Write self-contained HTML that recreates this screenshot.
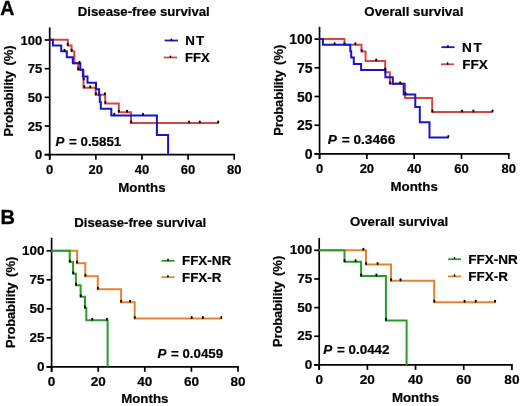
<!DOCTYPE html>
<html><head><meta charset="utf-8"><title>Kaplan-Meier survival curves</title>
<style>
html,body{margin:0;padding:0;background:#fff;}
svg{display:block;}
svg text{font-family:'Liberation Sans',Arial,sans-serif;font-weight:bold;font-size:13px;fill:#000;stroke:#000;stroke-width:0.2px;}
</style></head>
<body>
<svg width="520" height="406" viewBox="0 0 520 406">
<rect width="520" height="406" fill="#fff"/>
<text x="0.2" y="14.8" style="font-size:19.5px;stroke:#000;stroke-width:0.35px">A</text>
<text x="0.6" y="223.7" style="font-size:20px;stroke:#000;stroke-width:0.35px">B</text>
<text x="77.8" y="16.2" style="font-size:13.2px">Disease-free survival</text>
<text x="364.3" y="16.4" style="font-size:13.3px">Overall survival</text>
<text x="74.2" y="226.6" style="font-size:13.2px">Disease-free survival</text>
<text x="350.0" y="225.5" style="font-size:13.2px">Overall survival</text>
<line x1="49.7" y1="27.4" x2="49.7" y2="159.7" stroke="#000" stroke-width="1.7"/>
<line x1="44.7" y1="154.7" x2="235.04999999999998" y2="154.7" stroke="#000" stroke-width="1.7"/>
<line x1="44.7" y1="154.70" x2="49.7" y2="154.70" stroke="#000" stroke-width="1.7"/>
<text x="42.3" y="159.30" text-anchor="end" style="font-size:13px">0</text>
<line x1="44.7" y1="126.02" x2="49.7" y2="126.02" stroke="#000" stroke-width="1.7"/>
<text x="42.3" y="130.62" text-anchor="end" style="font-size:13px">25</text>
<line x1="44.7" y1="97.35" x2="49.7" y2="97.35" stroke="#000" stroke-width="1.7"/>
<text x="42.3" y="101.95" text-anchor="end" style="font-size:13px">50</text>
<line x1="44.7" y1="68.67" x2="49.7" y2="68.67" stroke="#000" stroke-width="1.7"/>
<text x="42.3" y="73.27" text-anchor="end" style="font-size:13px">75</text>
<line x1="44.7" y1="40.00" x2="49.7" y2="40.00" stroke="#000" stroke-width="1.7"/>
<text x="42.3" y="44.60" text-anchor="end" style="font-size:13px">100</text>
<line x1="49.70" y1="154.7" x2="49.70" y2="159.7" stroke="#000" stroke-width="1.7"/>
<text x="49.70" y="173.7" text-anchor="middle" style="font-size:13px">0</text>
<line x1="95.83" y1="154.7" x2="95.83" y2="159.7" stroke="#000" stroke-width="1.7"/>
<text x="95.83" y="173.7" text-anchor="middle" style="font-size:13px">20</text>
<line x1="141.95" y1="154.7" x2="141.95" y2="159.7" stroke="#000" stroke-width="1.7"/>
<text x="141.95" y="173.7" text-anchor="middle" style="font-size:13px">40</text>
<line x1="188.07" y1="154.7" x2="188.07" y2="159.7" stroke="#000" stroke-width="1.7"/>
<text x="188.07" y="173.7" text-anchor="middle" style="font-size:13px">60</text>
<line x1="234.20" y1="154.7" x2="234.20" y2="159.7" stroke="#000" stroke-width="1.7"/>
<text x="234.20" y="173.7" text-anchor="middle" style="font-size:13px">80</text>
<text x="141.95" y="191.90" text-anchor="middle" style="font-size:13.3px">Months</text>
<text transform="translate(13.0,90.9) rotate(-90)" x="0" y="0" text-anchor="middle"><tspan style="letter-spacing:-0.17px">Probability</tspan><tspan dx="2"> (%)</tspan></text>
<line x1="319.55" y1="26.8" x2="319.55" y2="158.9" stroke="#000" stroke-width="1.7"/>
<line x1="314.55" y1="153.9" x2="509.65000000000003" y2="153.9" stroke="#000" stroke-width="1.7"/>
<line x1="314.55" y1="153.90" x2="319.55" y2="153.90" stroke="#000" stroke-width="1.7"/>
<text x="312.5" y="159.00" text-anchor="end" style="font-size:14px">0</text>
<line x1="314.55" y1="125.20" x2="319.55" y2="125.20" stroke="#000" stroke-width="1.7"/>
<text x="312.5" y="130.30" text-anchor="end" style="font-size:14px">25</text>
<line x1="314.55" y1="96.50" x2="319.55" y2="96.50" stroke="#000" stroke-width="1.7"/>
<text x="312.5" y="101.60" text-anchor="end" style="font-size:14px">50</text>
<line x1="314.55" y1="67.80" x2="319.55" y2="67.80" stroke="#000" stroke-width="1.7"/>
<text x="312.5" y="72.90" text-anchor="end" style="font-size:14px">75</text>
<line x1="314.55" y1="39.10" x2="319.55" y2="39.10" stroke="#000" stroke-width="1.7"/>
<text x="312.5" y="44.20" text-anchor="end" style="font-size:14px">100</text>
<line x1="319.55" y1="153.9" x2="319.55" y2="158.9" stroke="#000" stroke-width="1.7"/>
<text x="319.55" y="173.2" text-anchor="middle" style="font-size:13px">0</text>
<line x1="366.86" y1="153.9" x2="366.86" y2="158.9" stroke="#000" stroke-width="1.7"/>
<text x="366.86" y="173.2" text-anchor="middle" style="font-size:13px">20</text>
<line x1="414.18" y1="153.9" x2="414.18" y2="158.9" stroke="#000" stroke-width="1.7"/>
<text x="414.18" y="173.2" text-anchor="middle" style="font-size:13px">40</text>
<line x1="461.49" y1="153.9" x2="461.49" y2="158.9" stroke="#000" stroke-width="1.7"/>
<text x="461.49" y="173.2" text-anchor="middle" style="font-size:13px">60</text>
<line x1="508.80" y1="153.9" x2="508.80" y2="158.9" stroke="#000" stroke-width="1.7"/>
<text x="508.80" y="173.2" text-anchor="middle" style="font-size:13px">80</text>
<text x="414.18" y="191.30" text-anchor="middle" style="font-size:13.3px">Months</text>
<text transform="translate(282.7,90.25) rotate(-90)" x="0" y="0" text-anchor="middle"><tspan style="letter-spacing:-0.17px">Probability</tspan><tspan dx="2"> (%)</tspan></text>
<line x1="51.6" y1="237.7" x2="51.6" y2="371.8" stroke="#000" stroke-width="1.7"/>
<line x1="46.6" y1="366.8" x2="238.85" y2="366.8" stroke="#000" stroke-width="1.7"/>
<line x1="46.6" y1="366.80" x2="51.6" y2="366.80" stroke="#000" stroke-width="1.7"/>
<text x="44.6" y="371.20" text-anchor="end" style="font-size:13.5px">0</text>
<line x1="46.6" y1="337.80" x2="51.6" y2="337.80" stroke="#000" stroke-width="1.7"/>
<text x="44.6" y="342.20" text-anchor="end" style="font-size:13.5px">25</text>
<line x1="46.6" y1="308.80" x2="51.6" y2="308.80" stroke="#000" stroke-width="1.7"/>
<text x="44.6" y="313.20" text-anchor="end" style="font-size:13.5px">50</text>
<line x1="46.6" y1="279.80" x2="51.6" y2="279.80" stroke="#000" stroke-width="1.7"/>
<text x="44.6" y="284.20" text-anchor="end" style="font-size:13.5px">75</text>
<line x1="46.6" y1="250.80" x2="51.6" y2="250.80" stroke="#000" stroke-width="1.7"/>
<text x="44.6" y="255.20" text-anchor="end" style="font-size:13.5px">100</text>
<line x1="51.60" y1="366.8" x2="51.60" y2="371.8" stroke="#000" stroke-width="1.7"/>
<text x="51.60" y="385.8" text-anchor="middle" style="font-size:13.5px">0</text>
<line x1="98.20" y1="366.8" x2="98.20" y2="371.8" stroke="#000" stroke-width="1.7"/>
<text x="98.20" y="385.8" text-anchor="middle" style="font-size:13.5px">20</text>
<line x1="144.80" y1="366.8" x2="144.80" y2="371.8" stroke="#000" stroke-width="1.7"/>
<text x="144.80" y="385.8" text-anchor="middle" style="font-size:13.5px">40</text>
<line x1="191.40" y1="366.8" x2="191.40" y2="371.8" stroke="#000" stroke-width="1.7"/>
<text x="191.40" y="385.8" text-anchor="middle" style="font-size:13.5px">60</text>
<line x1="238.00" y1="366.8" x2="238.00" y2="371.8" stroke="#000" stroke-width="1.7"/>
<text x="238.00" y="385.8" text-anchor="middle" style="font-size:13.5px">80</text>
<text x="144.80" y="403.40" text-anchor="middle" style="font-size:13.3px">Months</text>
<text transform="translate(15.2,302.3) rotate(-90)" x="0" y="0" text-anchor="middle"><tspan style="letter-spacing:-0.17px">Probability</tspan><tspan dx="2"> (%)</tspan></text>
<line x1="319.2" y1="237.9" x2="319.2" y2="369.9" stroke="#000" stroke-width="1.7"/>
<line x1="314.2" y1="364.9" x2="512.75" y2="364.9" stroke="#000" stroke-width="1.7"/>
<line x1="314.2" y1="364.90" x2="319.2" y2="364.90" stroke="#000" stroke-width="1.7"/>
<text x="312.2" y="369.00" text-anchor="end" style="font-size:13.5px">0</text>
<line x1="314.2" y1="336.25" x2="319.2" y2="336.25" stroke="#000" stroke-width="1.7"/>
<text x="312.2" y="340.35" text-anchor="end" style="font-size:13.5px">25</text>
<line x1="314.2" y1="307.60" x2="319.2" y2="307.60" stroke="#000" stroke-width="1.7"/>
<text x="312.2" y="311.70" text-anchor="end" style="font-size:13.5px">50</text>
<line x1="314.2" y1="278.95" x2="319.2" y2="278.95" stroke="#000" stroke-width="1.7"/>
<text x="312.2" y="283.05" text-anchor="end" style="font-size:13.5px">75</text>
<line x1="314.2" y1="250.30" x2="319.2" y2="250.30" stroke="#000" stroke-width="1.7"/>
<text x="312.2" y="254.40" text-anchor="end" style="font-size:13.5px">100</text>
<line x1="319.20" y1="364.9" x2="319.20" y2="369.9" stroke="#000" stroke-width="1.7"/>
<text x="319.20" y="384.3" text-anchor="middle" style="font-size:13.6px">0</text>
<line x1="367.38" y1="364.9" x2="367.38" y2="369.9" stroke="#000" stroke-width="1.7"/>
<text x="367.38" y="384.3" text-anchor="middle" style="font-size:13.6px">20</text>
<line x1="415.55" y1="364.9" x2="415.55" y2="369.9" stroke="#000" stroke-width="1.7"/>
<text x="415.55" y="384.3" text-anchor="middle" style="font-size:13.6px">40</text>
<line x1="463.73" y1="364.9" x2="463.73" y2="369.9" stroke="#000" stroke-width="1.7"/>
<text x="463.73" y="384.3" text-anchor="middle" style="font-size:13.6px">60</text>
<line x1="511.90" y1="364.9" x2="511.90" y2="369.9" stroke="#000" stroke-width="1.7"/>
<text x="511.90" y="384.3" text-anchor="middle" style="font-size:13.6px">80</text>
<text x="415.55" y="401.70" text-anchor="middle" style="font-size:13.3px">Months</text>
<text transform="translate(282.4,301.35) rotate(-90)" x="0" y="0" text-anchor="middle"><tspan style="letter-spacing:-0.17px">Probability</tspan><tspan dx="2"> (%)</tspan></text>
<path d="M49.7,39.8 L67.8,39.8 L67.8,45.4 L71.6,45.4 L71.6,51.3 L74.3,51.3 L74.3,63.3 L78.2,63.3 L78.2,69.8 L83.5,69.8 L83.5,87.7 L95.7,87.7 L95.7,94.8 L105.2,94.8 L105.2,103.6 L118.8,103.6 L118.8,112.2 L131.0,112.2 L131.0,123.0 L218.4,123.0" fill="none" stroke="#d44646" stroke-width="2" stroke-linejoin="miter" stroke-linecap="butt"/>
<line x1="67.8" y1="44.9" x2="67.8" y2="43.8" stroke="#000" stroke-width="1.9" stroke-linecap="round"/>
<line x1="71.6" y1="50.8" x2="71.6" y2="49.699999999999996" stroke="#000" stroke-width="1.9" stroke-linecap="round"/>
<line x1="78.2" y1="69.3" x2="78.2" y2="68.2" stroke="#000" stroke-width="1.9" stroke-linecap="round"/>
<line x1="83.7" y1="79.5" x2="83.7" y2="78.4" stroke="#000" stroke-width="1.9" stroke-linecap="round"/>
<line x1="84.3" y1="87.2" x2="84.3" y2="86.10000000000001" stroke="#000" stroke-width="1.9" stroke-linecap="round"/>
<line x1="90.2" y1="87.2" x2="90.2" y2="86.10000000000001" stroke="#000" stroke-width="1.9" stroke-linecap="round"/>
<line x1="95.9" y1="94.3" x2="95.9" y2="93.2" stroke="#000" stroke-width="1.9" stroke-linecap="round"/>
<line x1="104.9" y1="94.3" x2="104.9" y2="93.2" stroke="#000" stroke-width="1.9" stroke-linecap="round"/>
<line x1="105.4" y1="103.1" x2="105.4" y2="102.0" stroke="#000" stroke-width="1.9" stroke-linecap="round"/>
<line x1="118.9" y1="111.7" x2="118.9" y2="110.60000000000001" stroke="#000" stroke-width="1.9" stroke-linecap="round"/>
<line x1="127.1" y1="111.7" x2="127.1" y2="110.60000000000001" stroke="#000" stroke-width="1.9" stroke-linecap="round"/>
<line x1="131.1" y1="122.5" x2="131.1" y2="121.4" stroke="#000" stroke-width="1.9" stroke-linecap="round"/>
<line x1="189.0" y1="122.5" x2="189.0" y2="121.4" stroke="#000" stroke-width="1.9" stroke-linecap="round"/>
<line x1="199.8" y1="122.5" x2="199.8" y2="121.4" stroke="#000" stroke-width="1.9" stroke-linecap="round"/>
<line x1="218.2" y1="122.5" x2="218.2" y2="121.4" stroke="#000" stroke-width="1.9" stroke-linecap="round"/>
<path d="M49.7,39.8 L52.9,39.8 L52.9,45.6 L61.2,45.6 L61.2,51.2 L66.8,51.2 L66.8,57.2 L72.8,57.2 L72.8,63.3 L80.3,63.3 L80.3,69.8 L82.9,69.8 L82.9,76.4 L87.5,76.4 L87.5,82.8 L96.0,82.8 L96.0,89.2 L99.1,89.2 L99.1,95.0 L99.8,95.0 L99.8,102.0 L100.8,102.0 L100.8,108.8 L111.3,108.8 L111.3,115.4 L156.9,115.4 L156.9,135.0 L168.1,135.0 L168.1,154.7" fill="none" stroke="#1a14c8" stroke-width="2" stroke-linejoin="miter" stroke-linecap="butt"/>
<line x1="64.5" y1="50.7" x2="64.5" y2="49.6" stroke="#000" stroke-width="1.9" stroke-linecap="round"/>
<line x1="79.5" y1="62.8" x2="79.5" y2="61.699999999999996" stroke="#000" stroke-width="1.9" stroke-linecap="round"/>
<line x1="114.3" y1="114.9" x2="114.3" y2="113.80000000000001" stroke="#000" stroke-width="1.9" stroke-linecap="round"/>
<line x1="143.0" y1="114.9" x2="143.0" y2="113.80000000000001" stroke="#000" stroke-width="1.9" stroke-linecap="round"/>
<path d="M319.55,38.9 L344.5,38.9 L344.5,44.7 L361.5,44.7 L361.5,51.5 L365.6,51.5 L365.6,61.1 L385.2,61.1 L385.2,72.3 L389.9,72.3 L389.9,83.7 L405.1,83.7 L405.1,98.0 L432.2,98.0 L432.2,112.0 L492.5,112.0" fill="none" stroke="#d44646" stroke-width="2" stroke-linejoin="miter" stroke-linecap="butt"/>
<line x1="344.4" y1="44.2" x2="344.4" y2="43.1" stroke="#000" stroke-width="1.9" stroke-linecap="round"/>
<line x1="355.4" y1="44.2" x2="355.4" y2="43.1" stroke="#000" stroke-width="1.9" stroke-linecap="round"/>
<line x1="361.7" y1="51.0" x2="361.7" y2="49.9" stroke="#000" stroke-width="1.9" stroke-linecap="round"/>
<line x1="376.2" y1="60.6" x2="376.2" y2="59.5" stroke="#000" stroke-width="1.9" stroke-linecap="round"/>
<line x1="390.1" y1="83.2" x2="390.1" y2="82.10000000000001" stroke="#000" stroke-width="1.9" stroke-linecap="round"/>
<line x1="432.4" y1="111.5" x2="432.4" y2="110.4" stroke="#000" stroke-width="1.9" stroke-linecap="round"/>
<line x1="462.1" y1="111.5" x2="462.1" y2="110.4" stroke="#000" stroke-width="1.9" stroke-linecap="round"/>
<line x1="473.4" y1="111.5" x2="473.4" y2="110.4" stroke="#000" stroke-width="1.9" stroke-linecap="round"/>
<line x1="492.5" y1="111.5" x2="492.5" y2="110.4" stroke="#000" stroke-width="1.9" stroke-linecap="round"/>
<path d="M319.55,38.9 L322.9,38.9 L322.9,44.7 L350.3,44.7 L350.3,51.2 L351.2,51.2 L351.2,57.6 L353.8,57.6 L353.8,63.9 L361.1,63.9 L361.1,70.0 L385.4,70.0 L385.4,77.2 L392.8,77.2 L392.8,83.7 L403.7,83.7 L403.7,94.6 L415.3,94.6 L415.3,106.9 L419.8,106.9 L419.8,122.2 L429.5,122.2 L429.5,137.5 L448.5,137.5" fill="none" stroke="#1a14c8" stroke-width="2" stroke-linejoin="miter" stroke-linecap="butt"/>
<line x1="334.6" y1="44.2" x2="334.6" y2="43.1" stroke="#000" stroke-width="1.9" stroke-linecap="round"/>
<line x1="385.3" y1="69.5" x2="385.3" y2="68.4" stroke="#000" stroke-width="1.9" stroke-linecap="round"/>
<line x1="400.2" y1="83.2" x2="400.2" y2="82.10000000000001" stroke="#000" stroke-width="1.9" stroke-linecap="round"/>
<line x1="405.5" y1="94.1" x2="405.5" y2="93.0" stroke="#000" stroke-width="1.9" stroke-linecap="round"/>
<line x1="448.3" y1="137.0" x2="448.3" y2="135.9" stroke="#000" stroke-width="1.9" stroke-linecap="round"/>
<path d="M51.6,250.8 L77.1,250.8 L77.1,263.15 L85.3,263.15 L85.3,276.35 L97.8,276.35 L97.8,289.25 L121.1,289.25 L121.1,302.25 L134.7,302.25 L134.7,318.6 L221.3,318.6" fill="none" stroke="#e2832f" stroke-width="2" stroke-linejoin="miter" stroke-linecap="butt"/>
<line x1="77.0" y1="262.65" x2="77.0" y2="261.54999999999995" stroke="#000" stroke-width="1.9" stroke-linecap="round"/>
<line x1="85.4" y1="275.85" x2="85.4" y2="274.75" stroke="#000" stroke-width="1.9" stroke-linecap="round"/>
<line x1="97.9" y1="288.75" x2="97.9" y2="287.65" stroke="#000" stroke-width="1.9" stroke-linecap="round"/>
<line x1="121.2" y1="301.75" x2="121.2" y2="300.65" stroke="#000" stroke-width="1.9" stroke-linecap="round"/>
<line x1="130.1" y1="301.75" x2="130.1" y2="300.65" stroke="#000" stroke-width="1.9" stroke-linecap="round"/>
<line x1="134.8" y1="318.1" x2="134.8" y2="317.0" stroke="#000" stroke-width="1.9" stroke-linecap="round"/>
<line x1="191.7" y1="318.1" x2="191.7" y2="317.0" stroke="#000" stroke-width="1.9" stroke-linecap="round"/>
<line x1="202.9" y1="318.1" x2="202.9" y2="317.0" stroke="#000" stroke-width="1.9" stroke-linecap="round"/>
<line x1="221.3" y1="318.1" x2="221.3" y2="317.0" stroke="#000" stroke-width="1.9" stroke-linecap="round"/>
<path d="M51.6,250.8 L69.7,250.8 L69.7,262.05 L73.1,262.05 L73.1,273.75 L75.9,273.75 L75.9,285.25 L80.6,285.25 L80.6,296.85 L85.0,296.85 L85.0,308.05 L86.3,308.05 L86.3,320.35 L107.6,320.35 L107.6,366.8" fill="none" stroke="#2a9a2e" stroke-width="2" stroke-linejoin="miter" stroke-linecap="butt"/>
<line x1="69.9" y1="261.55" x2="69.9" y2="260.45" stroke="#000" stroke-width="1.9" stroke-linecap="round"/>
<line x1="73.3" y1="273.25" x2="73.3" y2="272.15" stroke="#000" stroke-width="1.9" stroke-linecap="round"/>
<line x1="76.1" y1="284.75" x2="76.1" y2="283.65" stroke="#000" stroke-width="1.9" stroke-linecap="round"/>
<line x1="80.8" y1="296.35" x2="80.8" y2="295.25" stroke="#000" stroke-width="1.9" stroke-linecap="round"/>
<line x1="85.1" y1="307.55" x2="85.1" y2="306.45" stroke="#000" stroke-width="1.9" stroke-linecap="round"/>
<line x1="92.2" y1="319.85" x2="92.2" y2="318.75" stroke="#000" stroke-width="1.9" stroke-linecap="round"/>
<line x1="106.9" y1="319.85" x2="106.9" y2="318.75" stroke="#000" stroke-width="1.9" stroke-linecap="round"/>
<path d="M319.2,250.3 L366.0,250.3 L366.0,264.5 L391.0,264.5 L391.0,280.8 L434.2,280.8 L434.2,302.2 L495.1,302.2" fill="none" stroke="#e2832f" stroke-width="2" stroke-linejoin="miter" stroke-linecap="butt"/>
<line x1="363.4" y1="249.8" x2="363.4" y2="248.70000000000002" stroke="#000" stroke-width="1.9" stroke-linecap="round"/>
<line x1="366.1" y1="264.0" x2="366.1" y2="262.9" stroke="#000" stroke-width="1.9" stroke-linecap="round"/>
<line x1="377.6" y1="264.0" x2="377.6" y2="262.9" stroke="#000" stroke-width="1.9" stroke-linecap="round"/>
<line x1="391.1" y1="280.3" x2="391.1" y2="279.2" stroke="#000" stroke-width="1.9" stroke-linecap="round"/>
<line x1="400.5" y1="280.3" x2="400.5" y2="279.2" stroke="#000" stroke-width="1.9" stroke-linecap="round"/>
<line x1="434.3" y1="301.7" x2="434.3" y2="300.59999999999997" stroke="#000" stroke-width="1.9" stroke-linecap="round"/>
<line x1="464.6" y1="301.7" x2="464.6" y2="300.59999999999997" stroke="#000" stroke-width="1.9" stroke-linecap="round"/>
<line x1="475.7" y1="301.7" x2="475.7" y2="300.59999999999997" stroke="#000" stroke-width="1.9" stroke-linecap="round"/>
<line x1="495.1" y1="301.7" x2="495.1" y2="300.59999999999997" stroke="#000" stroke-width="1.9" stroke-linecap="round"/>
<path d="M319.2,250.3 L344.5,250.3 L344.5,261.8 L361.1,261.8 L361.1,276.1 L385.9,276.1 L385.9,320.4 L406.6,320.4 L406.6,364.9" fill="none" stroke="#2a9a2e" stroke-width="2" stroke-linejoin="miter" stroke-linecap="butt"/>
<line x1="344.6" y1="261.3" x2="344.6" y2="260.2" stroke="#000" stroke-width="1.9" stroke-linecap="round"/>
<line x1="355.6" y1="261.3" x2="355.6" y2="260.2" stroke="#000" stroke-width="1.9" stroke-linecap="round"/>
<line x1="361.2" y1="275.6" x2="361.2" y2="274.5" stroke="#000" stroke-width="1.9" stroke-linecap="round"/>
<line x1="376.4" y1="275.6" x2="376.4" y2="274.5" stroke="#000" stroke-width="1.9" stroke-linecap="round"/>
<line x1="386.0" y1="319.9" x2="386.0" y2="318.79999999999995" stroke="#000" stroke-width="1.9" stroke-linecap="round"/>
<line x1="164.7" y1="40.5" x2="177.9" y2="40.5" stroke="#1a14c8" stroke-width="1.8"/><line x1="171.3" y1="40.1" x2="171.3" y2="39.2" stroke="#000" stroke-width="1.6" stroke-linecap="round"/><text x="185.2" y="44.7" style="font-size:13.4px;letter-spacing:1.2px">NT</text>
<line x1="163.7" y1="57.5" x2="177.2" y2="57.5" stroke="#d44646" stroke-width="1.8"/><line x1="170.45" y1="57.1" x2="170.45" y2="56.2" stroke="#000" stroke-width="1.6" stroke-linecap="round"/><text x="185.1" y="61.7" style="font-size:13.1px;letter-spacing:0px">FFX</text>
<line x1="441.4" y1="47.2" x2="454.5" y2="47.2" stroke="#1a14c8" stroke-width="1.8"/><line x1="447.95" y1="46.800000000000004" x2="447.95" y2="45.900000000000006" stroke="#000" stroke-width="1.6" stroke-linecap="round"/><text x="462.1" y="51.8" style="font-size:13.6px;letter-spacing:1.6px">NT</text>
<line x1="441.0" y1="64.3" x2="454.2" y2="64.3" stroke="#d44646" stroke-width="1.8"/><line x1="447.6" y1="63.9" x2="447.6" y2="63.0" stroke="#000" stroke-width="1.6" stroke-linecap="round"/><text x="462.2" y="68.7" style="font-size:13.5px;letter-spacing:0px">FFX</text>
<line x1="161.5" y1="260.8" x2="174.6" y2="260.8" stroke="#2a9a2e" stroke-width="1.8"/><line x1="168.05" y1="260.40000000000003" x2="168.05" y2="259.5" stroke="#000" stroke-width="1.6" stroke-linecap="round"/><text x="182.0" y="265.2" style="font-size:13.4px;letter-spacing:0px">FFX-NR</text>
<line x1="161.2" y1="277.2" x2="174.6" y2="277.2" stroke="#e2832f" stroke-width="1.8"/><line x1="167.89999999999998" y1="276.8" x2="167.89999999999998" y2="275.9" stroke="#000" stroke-width="1.6" stroke-linecap="round"/><text x="182.0" y="281.8" style="font-size:13.4px;letter-spacing:0px">FFX-R</text>
<line x1="448.0" y1="259.2" x2="461.0" y2="259.2" stroke="#2a9a2e" stroke-width="1.8"/><line x1="454.5" y1="258.8" x2="454.5" y2="257.9" stroke="#000" stroke-width="1.6" stroke-linecap="round"/><text x="468.2" y="263.8" style="font-size:13.5px;letter-spacing:0px">FFX-NR</text>
<line x1="448.0" y1="276.4" x2="461.0" y2="276.4" stroke="#e2832f" stroke-width="1.8"/><line x1="454.5" y1="276.0" x2="454.5" y2="275.09999999999997" stroke="#000" stroke-width="1.6" stroke-linecap="round"/><text x="468.2" y="281.0" style="font-size:13.5px;letter-spacing:0px">FFX-R</text>
<text x="55.6" y="145.8" text-anchor="start" style="font-size:13.3px"><tspan font-style="italic">P</tspan><tspan dx="0.9"> = 0.5851</tspan></text>
<text x="327.8" y="143.5" text-anchor="start" style="font-size:13.7px"><tspan font-style="italic">P</tspan><tspan dx="0.9"> = 0.3466</tspan></text>
<text x="223.1" y="358.3" text-anchor="end" style="font-size:13.3px"><tspan font-style="italic">P</tspan><tspan dx="0.9"> = 0.0459</tspan></text>
<text x="323.3" y="353.8" text-anchor="start" style="font-size:13.45px"><tspan font-style="italic">P</tspan><tspan dx="0.9"> = 0.0442</tspan></text>
</svg>
</body></html>
